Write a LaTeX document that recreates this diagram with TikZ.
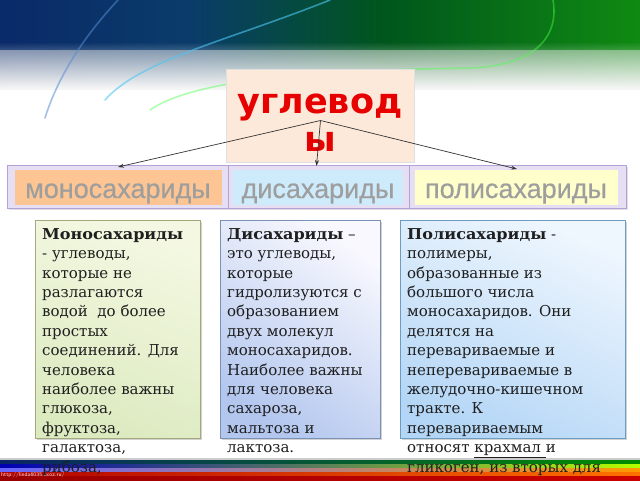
\documentclass[tikz,border=0pt]{standalone}
\usepackage{fontspec}
\setmainfont{DejaVu Serif}[BoldFeatures={FakeStretch=1.07}]
\newfontfamily\labelfont{Liberation Sans}[UprightFeatures={FakeBold=0.5}]
\newfontfamily\titlefont{DejaVu Sans}
\usetikzlibrary{shadows,fadings,arrows.meta}
\definecolor{navyA}{HTML}{0A2468}
\definecolor{tealA}{HTML}{0A3C6A}
\definecolor{dgreenA}{HTML}{00561C}
\definecolor{greenA}{HTML}{108A12}
\definecolor{oliveA}{HTML}{4A8A18}
\definecolor{peach}{HTML}{FDE9DA}
\definecolor{titlered}{HTML}{E60000}
\definecolor{barborder}{HTML}{B4A2D6}
\definecolor{barfill}{HTML}{E6DEF2}
\definecolor{orangefill}{HTML}{FCC593}
\definecolor{bluefill}{HTML}{CDEBFB}
\definecolor{yellowfill}{HTML}{FFFFCC}
\definecolor{labelgray}{HTML}{9E9E9E}
\definecolor{b1top}{HTML}{F4F8E2}
\definecolor{b1bot}{HTML}{DCEAC0}
\definecolor{b2top}{HTML}{F8F8FE}
\definecolor{b2bot}{HTML}{B2C6EE}
\definecolor{b3top}{HTML}{EEF6FE}
\definecolor{b3bot}{HTML}{B4D6F6}
\definecolor{b1line}{HTML}{A4A87C}
\definecolor{b2line}{HTML}{7A90B4}
\definecolor{b3line}{HTML}{6C9CC0}
\pgfdeclarehorizontalshading{topband}{100bp}{color(0bp)=(navyA); color(20bp)=(navyA); color(40bp)=(tealA); color(55bp)=(dgreenA); color(75bp)=(greenA); color(88bp)=(oliveA); color(100bp)=(oliveA)}
\tikzset{
  txt/.style={anchor=north west, inner sep=0pt, align=left, text=black!88,
    font=\fontsize{15}{19.4}\selectfont},
  infobox/.style={draw=#1, line width=0.8pt, drop shadow={opacity=0.35, shadow xshift=2pt, shadow yshift=-2pt}},
  barsec/.style={draw=barborder, line width=1pt, fill=barfill, drop shadow={opacity=0.25, shadow xshift=1.5pt, shadow yshift=-1.5pt}},
  lbl/.style={inner sep=0pt, font=\labelfont\fontsize{27}{30}\selectfont},
  conn/.style={draw=black!80, line width=0.7pt, -{Stealth[length=6pt, width=4pt]}},
  swirl/.style={line width=1.6pt, line cap=round}
}
\begin{document}
\begin{tikzpicture}[x=1pt,y=-1pt]
\useasboundingbox (0,0) rectangle (640,480);
\fill[white] (0,0) rectangle (640,480);
% top band
\shade[shading=topband] (0,0) rectangle (640,42);
\shade[shading=topband, path fading=south] (0,42) rectangle (640,88);
\fill[black!8, opacity=0.45] (0,50) rectangle (640,90);
% swirls
\draw[swirl, cyan!50!blue!70!white, opacity=0.55] (45,118) .. controls (60,70) and (90,30) .. (118,0);
\draw[swirl, cyan!70!white, opacity=0.6] (105,100) .. controls (140,60) and (230,40) .. (330,0);
\draw[swirl, green!70!white, opacity=0.45] (553,0) .. controls (560,40) and (530,66) .. (470,68)
   .. controls (350,70) and (200,75) .. (150,110);
% title box
\node[draw=black!12, fill=peach, minimum width=188pt, minimum height=93pt, inner sep=0pt] (top) at (320,115.5) {};
\node[inner sep=0pt, anchor=base, text=titlered, font=\titlefont\bfseries\fontsize{35}{40}\selectfont] (t1) at (320,113) {углевод};
\node[inner sep=0pt, anchor=base, text=titlered, font=\titlefont\bfseries\fontsize{35}{40}\selectfont] (t2) at (320,151) {ы};
% bar
\node[barsec, minimum width=221pt, minimum height=43pt, inner sep=0pt] (s1) at (117.5,186.5) {};
\node[barsec, minimum width=181pt, minimum height=43pt, inner sep=0pt] (s2) at (318.5,186.5) {};
\node[barsec, minimum width=217pt, minimum height=43pt, inner sep=0pt] (s3) at (517.5,186.5) {};
\node[fill=orangefill, minimum width=207pt, minimum height=35pt, inner sep=0pt] (f1) at (118.5,187.5) {};
\node[fill=bluefill, minimum width=170pt, minimum height=35pt, inner sep=0pt] (f2) at (318,187.5) {};
\node[fill=yellowfill, minimum width=203pt, minimum height=35pt, inner sep=0pt] (f3) at (516.5,187.5) {};
\node[lbl, text=labelgray, anchor=base] (m) at (118,198) {моносахариды};
\node[lbl, text=labelgray, anchor=base] (d) at (318,198) {дисахариды};
\node[lbl, text=labelgray, anchor=base] (p) at (516,198) {полисахариды};
% connectors
\coordinate (apex) at (320.5,120.5);
\coordinate (e1) at (118,167);
\coordinate (e2) at (316.5,166);
\coordinate (e3) at (517,169);
\draw[conn] (apex) -- (e1);
\draw[conn] (apex) -- (e2);
\draw[conn] (apex) -- (e3);
% info boxes
\shade[infobox=b1line, top color=b1top, bottom color=b1bot, shading angle=-20] (35,220) rectangle (200,438);
\shade[infobox=b2line, top color=b2top, bottom color=b2bot, shading angle=-35] (220,220) rectangle (380,438);
\shade[infobox=b3line, top color=b3top, bottom color=b3bot, shading angle=-25] (400,220) rectangle (625,438);
% bottom strip
\fill[black!20] (0,458) rectangle (640,460);
\shade[left color=navyA, middle color=blue!60!black, right color=green!55!black] (0,460) rectangle (640,464);
\shade[left color=blue!70!black, middle color=cyan!50!blue, right color=yellow!70!green] (0,464) rectangle (640,468);
\shade[left color=blue!60, middle color=blue!50!cyan, right color=orange!80!yellow] (0,468) rectangle (640,472);
\shade[left color=red!70!black, middle color=red!80, right color=orange!90!red] (0,472) rectangle (640,476);
\shade[left color=red!60!black, middle color=red!70!black, right color=red!80!black] (0,476) rectangle (640,480);
\node[anchor=west, inner sep=0pt, text=white!80!gray, font=\sffamily\fontsize{5.5}{6}\selectfont] (url) at (1,475.5) {http://linda6035.ucoz.ru/};
% texts
\node[txt] (b1) at (42,227) {\rule{0pt}{12pt}\textbf{Моносахариды}\\
- углеводы,\\
которые не\\
разлагаются\\
водой \ до более\\
простых\\
соединений. Для\\
человека\\
наиболее важны\\
глюкоза,\\
фруктоза,\\
галактоза,\\
рибоза,};
\node[txt] (b2) at (227,227) {\rule{0pt}{12pt}\textbf{Дисахариды} –\\
это углеводы,\\
которые\\
гидролизуются с\\
образованием\\
двух молекул\\
моносахаридов.\\
Наиболее важны\\
для человека\\
сахароза,\\
мальтоза и\\
лактоза.};
\node[txt] (b3) at (407,227) {\rule{0pt}{12pt}\textbf{Полисахариды} -\\
полимеры,\\
образованные из\\
большого числа\\
моносахаридов. Они\\
делятся на\\
перевариваемые и\\
неперевариваемые в\\
желудочно-кишечном\\
тракте. К\\
перевариваемым\\
относят \underline{крахмал\ }и\\
гликоген, из вторых для};
\end{tikzpicture}
\end{document}
